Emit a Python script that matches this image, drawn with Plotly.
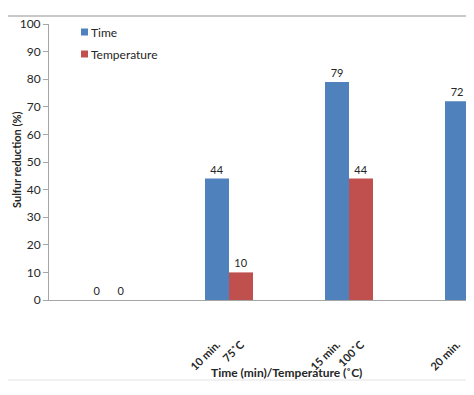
import plotly.graph_objects as go

groups = [0, 1, 2, 3]
time_labels = ["", "10 min.", "15 min.", "20 min."]
temp_labels = ["", "75˚C", "100˚C", "150˚C"]
time_vals = [0, 44, 79, 72]
temp_vals = [0, 10, 44, 48]
series_names = ["Time", "Temperature"]

blue = "#4F81BD"
red = "#C0504D"
font = "Lato, 'Open Sans', sans-serif"
txt = "#262626"

# the page body adds an 8 px margin; lay out in window coordinates
O = 8
W, H = 474 - O, 395 - 2 * O
AX_X, AX_TOP, AX_BOT = 49, 24, 300          # window coords of plot area
L, T = AX_X - O, AX_TOP - O
B = H - (AX_BOT - O)
R = 0
pw, ph = W - L - R, H - T - B


def px(x):
    return (x - AX_X) / pw


def py(y):
    return (AX_BOT - y) / ph


fig = go.Figure()
for name, vals, col in zip(series_names, [time_vals, temp_vals], [blue, red]):
    fig.add_trace(go.Bar(x=groups, y=vals, name=name, marker_color=col,
                         marker_line_width=0,
                         text=[str(v) for v in vals], textposition="outside",
                         textfont=dict(size=11, color=txt, family=font),
                         cliponaxis=False, showlegend=False))

bargap = 0.6
half = (1 - bargap) / 4
tickvals, ticktext = [], []
for g, a, b in zip(groups, time_labels, temp_labels):
    if a:
        tickvals.append(g - half); ticktext.append(a)
    if b:
        tickvals.append(g + half); ticktext.append(b)

right = -0.5 + pw / 120  # one category spans 120 px
fig.update_layout(
    width=W, height=H,
    margin=dict(l=L, r=R, t=T, b=B, autoexpand=False),
    paper_bgcolor="white", plot_bgcolor="white",
    font=dict(family=font, size=11, color=txt),
    barmode="group", bargap=bargap, bargroupgap=0,
    showlegend=False,
    xaxis=dict(range=[-0.5, right], tickmode="array", tickvals=tickvals,
               ticktext=ticktext, tickangle=-45, ticks="outside", ticklen=33,
               tickcolor="rgba(0,0,0,0)", automargin=False,
               tickfont=dict(size=11, family=font, color=txt, weight="bold"),
               showline=True, linecolor="#A6A6A6", linewidth=1,
               showgrid=False, zeroline=False),
    yaxis=dict(range=[0, 100], dtick=10, ticks="outside", ticklen=5,
               tickcolor="#A6A6A6", showline=True, linecolor="#A6A6A6",
               linewidth=1, showgrid=False, zeroline=False, automargin=False,
               tickfont=dict(size=12, color=txt)),
)

# axis titles
fig.add_annotation(text="<b>Time (min)/Temperature (˚C)</b>", xref="paper", yref="paper",
                   x=px(286), y=py(372), xanchor="center", yanchor="middle",
                   showarrow=False, font=dict(size=12, family=font, color=txt))
fig.add_annotation(text="<b>Sulfur reduction (%)</b>", xref="paper", yref="paper",
                   x=px(16), y=py(160), xanchor="center", yanchor="middle",
                   showarrow=False, textangle=-90,
                   font=dict(size=11, family=font, color=txt))

# legend
for i, (name, col) in enumerate(zip(series_names, [blue, red])):
    cy = 32 + 22 * i
    fig.add_shape(type="rect", xref="paper", yref="paper",
                  x0=px(81), x1=px(88), y0=py(cy + 3.5), y1=py(cy - 3.5),
                  fillcolor=col, line_width=0)
    fig.add_annotation(text=name, xref="paper", yref="paper", x=px(89), y=py(cy),
                       xanchor="left", yanchor="middle", showarrow=False,
                       font=dict(size=12, family=font, color=txt))

# frame lines of the cropped picture
fig.add_shape(type="line", xref="paper", yref="paper", x0=px(O), x1=px(474),
              y0=py(16), y1=py(16), line=dict(color="#C8C8C8", width=2))
fig.add_shape(type="line", xref="paper", yref="paper", x0=px(O), x1=px(474),
              y0=py(380), y1=py(380), line=dict(color="#E3E3E3", width=1))
fig.write_html("out.html")
